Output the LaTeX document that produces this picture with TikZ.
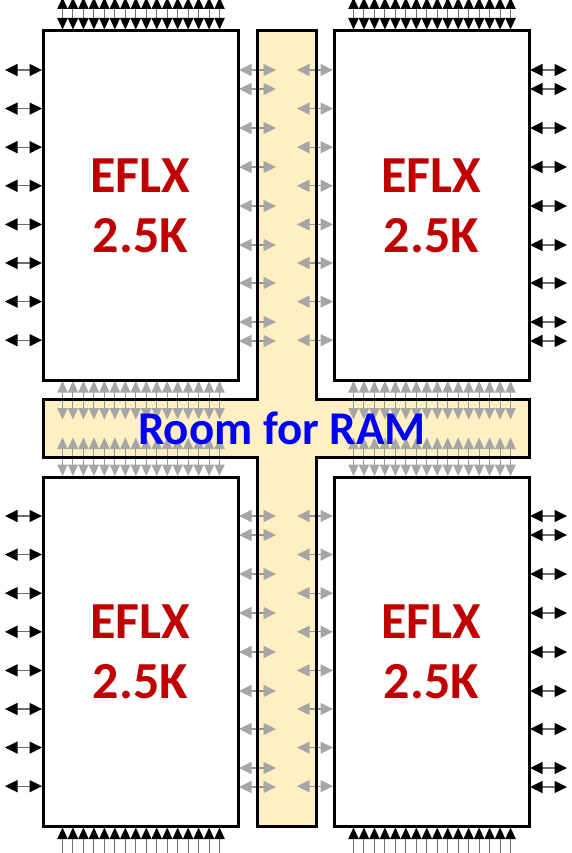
\documentclass[tikz,border=0pt]{standalone}
\usepackage{fontspec}
\setmainfont{Carlito}
\definecolor{eflxred}{RGB}{192,0,0}
\definecolor{ramblue}{RGB}{0,0,255}
\definecolor{crossfill}{RGB}{255,240,196}
\definecolor{iogray}{RGB}{166,166,166}
\definecolor{shaftgray}{RGB}{110,110,110}
\definecolor{lightshaft}{RGB}{150,150,150}
\tikzset{
  pics/hio/.style args={#1/#2/#3}{code={
    \draw[#3, line width=1.3pt] (10,0) -- (#1-10,0);
    \fill[#2] (0,0) -- (12.5,-6.2) -- (12.5,6.2) -- cycle;
    \fill[#2] (#1,0) -- (#1-12.5,-6.2) -- (#1-12.5,6.2) -- cycle;
  }},
  pics/vio/.style args={#1/#2/#3}{code={
    \draw[#3, line width=1pt] (0,9) -- (0,#1-9);
    \fill[#2] (0,0) -- (-5.3,11.5) -- (5.3,11.5) -- cycle;
    \fill[#2] (0,#1) -- (-5.3,#1-11.5) -- (5.3,#1-11.5) -- cycle;
  }},
  block/.style={draw=black, line width=3pt, fill=white, minimum width=195pt, minimum height=349pt, inner sep=0pt, align=center, text=eflxred, font=\bfseries\fontsize{52}{60}\selectfont},
  crossbar/.style={fill=crossfill, draw=none},
  crossline/.style={draw=black, line width=3pt, line join=miter},
  ramlabel/.style={text=ramblue, font=\bfseries\fontsize{47}{50}\selectfont, inner sep=0pt}
}
\begin{document}
\begin{tikzpicture}[x=1pt,y=-1pt]
\useasboundingbox (0,0) rectangle (571,853);
\clip (0,0) rectangle (571,853);
% cross fill
\path[crossbar] (257,31) -- (316,31) -- (316,399) -- (529,399) -- (529,457) -- (316,457) -- (316,826) -- (257,826) -- (257,457) -- (43,457) -- (43,399) -- (257,399) -- cycle;
% gray arrows in the vertical channel
\foreach \T in {31,477}{
  \foreach \o in {39,58,97,136,175,214,252,291,310}
    \pic at (239,\T+\o) {hio=37/iogray/lightshaft};
  \foreach \k in {0,...,7}
    \pic at (297,\T+39+38.6*\k) {hio=36/iogray/lightshaft};
}
% gray bus arrows across the horizontal channel
\foreach \L in {43,334}{
  \foreach \k in {0,...,15}{
    \pic at (\L+19.5+10.47*\k,381) {vio=38.5/iogray/lightshaft};
    \pic at (\L+19.5+10.47*\k,437.5) {vio=38.5/iogray/lightshaft};
  }
}
% cross outline
\path[crossline] (257,31) -- (316,31) -- (316,399) -- (529,399) -- (529,457) -- (316,457) -- (316,826) -- (257,826) -- (257,457) -- (43,457) -- (43,399) -- (257,399) -- cycle;
\node[ramlabel] (ram) at (282,428) {Room for RAM};
% blocks
\node[block] (tl) at (140.5,205.5) {EFLX\\2.5K};
\node[block] (tr) at (431.5,205.5) {EFLX\\2.5K};
\node[block] (bl) at (140.5,651.5) {EFLX\\2.5K};
\node[block] (br) at (431.5,651.5) {EFLX\\2.5K};
% black side arrows
\foreach \T in {31,477}{
  \foreach \k in {0,...,7}
    \pic at (5,\T+39+38.6*\k) {hio=37/black/shaftgray};
  \foreach \o in {39,58,97,136,175,214,252,291,310}
    \pic at (530,\T+\o) {hio=37/black/shaftgray};
}
% black bus arrows top and bottom
\foreach \L in {43,334}{
  \foreach \k in {0,...,15}{
    \pic at (\L+19.5+10.47*\k,-2.5) {vio=32/black/shaftgray};
    \pic at (\L+19.5+10.47*\k,827.5) {vio=38/black/shaftgray};
  }
}
\end{tikzpicture}
\end{document}
